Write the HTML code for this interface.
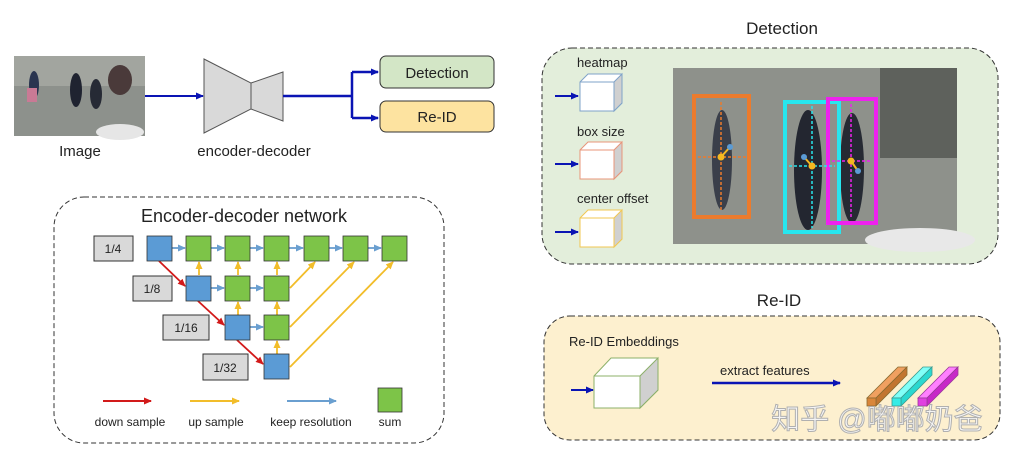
<!DOCTYPE html>
<html><head><meta charset="utf-8"><style>
html,body{margin:0;padding:0;background:#fff;}
svg text{font-family:"Liberation Sans","Noto Sans CJK SC",sans-serif;fill:#222;}
</style></head><body>
<svg width="1011" height="459" viewBox="0 0 1011 459" xmlns="http://www.w3.org/2000/svg">
<defs>
<marker id="ab" markerWidth="8" markerHeight="8" refX="7" refY="4" orient="auto" markerUnits="userSpaceOnUse"><path d="M0,0.5 L8,4 L0,7.5z" fill="#0a14b4"/></marker>
<marker id="ar" markerWidth="8" markerHeight="8" refX="7" refY="4" orient="auto" markerUnits="userSpaceOnUse"><path d="M0,0.5 L8,4 L0,7.5z" fill="#d21a1a"/></marker>
<marker id="ay" markerWidth="8" markerHeight="8" refX="7" refY="4" orient="auto" markerUnits="userSpaceOnUse"><path d="M0,0.5 L8,4 L0,7.5z" fill="#f2bd2a"/></marker>
<marker id="al" markerWidth="8" markerHeight="8" refX="7" refY="4" orient="auto" markerUnits="userSpaceOnUse"><path d="M0,0.5 L8,4 L0,7.5z" fill="#6a9fd0"/></marker>
</defs>

<rect x="14" y="56" width="131" height="80" fill="#8d918c"/>
<rect x="14" y="56" width="131" height="30" fill="#a2a59f"/>
<ellipse cx="34" cy="85" rx="5" ry="14" fill="#2a3550"/>
<rect x="27" y="88" width="10" height="14" fill="#c97a95"/>
<ellipse cx="76" cy="90" rx="6" ry="17" fill="#1f2330"/>
<ellipse cx="96" cy="94" rx="6" ry="15" fill="#262a35"/>
<ellipse cx="120" cy="80" rx="12" ry="15" fill="#4a3a3a"/>
<ellipse cx="120" cy="132" rx="24" ry="8" fill="#e6e6e6"/>
<line x1="145" y1="96" x2="203" y2="96" stroke="#0a14b4" stroke-width="2" marker-end="url(#ab)"/>
<path d="M204,59 L251,83 L251,109 L204,133z" fill="#d9d9d9" stroke="#555" stroke-width="1"/>
<path d="M251,83 L283,72 L283,121 L251,109z" fill="#d9d9d9" stroke="#555" stroke-width="1"/>
<text x="80" y="156" font-size="15" text-anchor="middle">Image</text>
<text x="254" y="156" font-size="15" text-anchor="middle">encoder-decoder</text>
<path d="M283,96 L352,96 M352,72 L352,118" stroke="#0a14b4" stroke-width="2.5" fill="none"/>
<line x1="352" y1="72" x2="378" y2="72" stroke="#0a14b4" stroke-width="2.5" marker-end="url(#ab)"/>
<line x1="352" y1="118" x2="378" y2="118" stroke="#0a14b4" stroke-width="2.5" marker-end="url(#ab)"/>
<rect x="380" y="56" width="114" height="32" rx="6" fill="#d3e6c6" stroke="#333" stroke-width="1"/>
<text x="437" y="78" font-size="15" text-anchor="middle">Detection</text>
<rect x="380" y="101" width="114" height="31" rx="6" fill="#fde3a0" stroke="#333" stroke-width="1"/>
<text x="437" y="122" font-size="15" text-anchor="middle">Re-ID</text>

<rect x="54" y="197" width="390" height="246" rx="30" fill="none" stroke="#333" stroke-width="1" stroke-dasharray="5,3"/>
<text x="244" y="222" font-size="18" text-anchor="middle">Encoder-decoder network</text>
<g font-size="12">
<rect x="94" y="236" width="39" height="25" fill="#d9d9d9" stroke="#333"/><text x="113" y="253" text-anchor="middle">1/4</text>
<rect x="133" y="276" width="39" height="25" fill="#d9d9d9" stroke="#333"/><text x="152" y="293" text-anchor="middle">1/8</text>
<rect x="163" y="315" width="46" height="25" fill="#d9d9d9" stroke="#333"/><text x="186" y="332" text-anchor="middle">1/16</text>
<rect x="203" y="354" width="45" height="26" fill="#d9d9d9" stroke="#333"/><text x="225" y="372" text-anchor="middle">1/32</text>
</g>
<g stroke-width="1.8" fill="none">
<g stroke="#6a9fd0">
<line x1="172" y1="248" x2="185" y2="248" marker-end="url(#al)"/>
<line x1="211" y1="248" x2="224" y2="248" marker-end="url(#al)"/>
<line x1="250" y1="248" x2="263" y2="248" marker-end="url(#al)"/>
<line x1="289" y1="248" x2="303" y2="248" marker-end="url(#al)"/>
<line x1="329" y1="248" x2="342" y2="248" marker-end="url(#al)"/>
<line x1="368" y1="248" x2="381" y2="248" marker-end="url(#al)"/>
<line x1="211" y1="288" x2="224" y2="288" marker-end="url(#al)"/>
<line x1="250" y1="288" x2="263" y2="288" marker-end="url(#al)"/>
<line x1="250" y1="327" x2="263" y2="327" marker-end="url(#al)"/>
</g>
<g stroke="#d21a1a">
<line x1="159" y1="261" x2="185" y2="286" marker-end="url(#ar)"/>
<line x1="198" y1="301" x2="224" y2="325" marker-end="url(#ar)"/>
<line x1="237" y1="340" x2="263" y2="364" marker-end="url(#ar)"/>
</g>
<g stroke="#f2bd2a">
<line x1="199" y1="275" x2="199" y2="262" marker-end="url(#ay)"/>
<line x1="238" y1="275" x2="238" y2="262" marker-end="url(#ay)"/>
<line x1="277" y1="275" x2="277" y2="262" marker-end="url(#ay)"/>
<line x1="238" y1="315" x2="238" y2="302" marker-end="url(#ay)"/>
<line x1="277" y1="315" x2="277" y2="302" marker-end="url(#ay)"/>
<line x1="277" y1="354" x2="277" y2="341" marker-end="url(#ay)"/>
<line x1="290" y1="288" x2="315" y2="262" marker-end="url(#ay)"/>
<line x1="290" y1="327" x2="354" y2="262" marker-end="url(#ay)"/>
<line x1="290" y1="367" x2="393" y2="262" marker-end="url(#ay)"/>
</g>
</g>
<g stroke="#333" stroke-width="0.8">
<rect x="147" y="236" width="25" height="25" fill="#5b9bd5"/>
<rect x="186" y="236" width="25" height="25" fill="#7dc448"/>
<rect x="225" y="236" width="25" height="25" fill="#7dc448"/>
<rect x="264" y="236" width="25" height="25" fill="#7dc448"/>
<rect x="304" y="236" width="25" height="25" fill="#7dc448"/>
<rect x="343" y="236" width="25" height="25" fill="#7dc448"/>
<rect x="382" y="236" width="25" height="25" fill="#7dc448"/>
<rect x="186" y="276" width="25" height="25" fill="#5b9bd5"/>
<rect x="225" y="276" width="25" height="25" fill="#7dc448"/>
<rect x="264" y="276" width="25" height="25" fill="#7dc448"/>
<rect x="225" y="315" width="25" height="25" fill="#5b9bd5"/>
<rect x="264" y="315" width="25" height="25" fill="#7dc448"/>
<rect x="264" y="354" width="25" height="25" fill="#5b9bd5"/>
<rect x="378" y="388" width="24" height="24" fill="#7dc448"/>
</g>
<g stroke-width="2">
<line x1="103" y1="401" x2="151" y2="401" stroke="#d21a1a" marker-end="url(#ar)"/>
<line x1="190" y1="401" x2="239" y2="401" stroke="#f2bd2a" marker-end="url(#ay)"/>
<line x1="287" y1="401" x2="336" y2="401" stroke="#6a9fd0" marker-end="url(#al)"/>
</g>
<g font-size="12" text-anchor="middle">
<text x="130" y="426">down sample</text>
<text x="216" y="426">up sample</text>
<text x="311" y="426">keep resolution</text>
<text x="390" y="426">sum</text>
</g>

<text x="782" y="34" font-size="17" text-anchor="middle">Detection</text>
<rect x="542" y="48" width="456" height="216" rx="30" fill="#e3eedb" stroke="#333" stroke-width="1" stroke-dasharray="5,3"/>
<g font-size="13">
<text x="577" y="67">heatmap</text>
<text x="577" y="136">box size</text>
<text x="577" y="203">center offset</text>
</g>
<g stroke-width="2">
<line x1="555" y1="96" x2="578" y2="96" stroke="#0a14b4" marker-end="url(#ab)"/>
<line x1="555" y1="164" x2="578" y2="164" stroke="#0a14b4" marker-end="url(#ab)"/>
<line x1="555" y1="232" x2="578" y2="232" stroke="#0a14b4" marker-end="url(#ab)"/>
</g>
<g stroke-width="1">
<path d="M580,82 L588,74 L622,74 L622,103 L614,111 L580,111z" fill="#fff" stroke="#7fa3c9"/>
<path d="M614,82 L622,74 L622,103 L614,111z" fill="#d0d0d0" stroke="#7fa3c9"/>
<line x1="580" y1="82" x2="614" y2="82" stroke="#7fa3c9"/>
<path d="M580,150 L588,142 L622,142 L622,171 L614,179 L580,179z" fill="#fff" stroke="#e8957a"/>
<path d="M614,150 L622,142 L622,171 L614,179z" fill="#d0d0d0" stroke="#e8957a"/>
<line x1="580" y1="150" x2="614" y2="150" stroke="#e8957a"/>
<path d="M580,218 L588,210 L622,210 L622,239 L614,247 L580,247z" fill="#fff" stroke="#f2c752"/>
<path d="M614,218 L622,210 L622,239 L614,247z" fill="#d0d0d0" stroke="#f2c752"/>
<line x1="580" y1="218" x2="614" y2="218" stroke="#f2c752"/>
</g>
<rect x="673" y="68" width="284" height="176" fill="#8e918b"/>
<rect x="880" y="68" width="77" height="90" fill="#5e615c"/>
<ellipse cx="920" cy="240" rx="55" ry="12" fill="#e8e8e8"/>
<ellipse cx="722" cy="160" rx="10" ry="50" fill="#3a3f4a"/>
<ellipse cx="808" cy="170" rx="14" ry="60" fill="#232630"/>
<ellipse cx="852" cy="168" rx="12" ry="55" fill="#262a33"/>
<g fill="none">
<rect x="694" y="96" width="55" height="121" stroke="#ec7b2d" stroke-width="4"/>
<rect x="785" y="102" width="54" height="130" stroke="#27e6ee" stroke-width="4"/>
<rect x="828" y="99" width="48" height="124" stroke="#ee22ee" stroke-width="4"/>
<g stroke-dasharray="3,2" stroke-width="1.5">
<line x1="721" y1="102" x2="721" y2="212" stroke="#ec7b2d"/>
<line x1="698" y1="157" x2="746" y2="157" stroke="#ec7b2d"/>
<line x1="812" y1="106" x2="812" y2="228" stroke="#27e6ee"/>
<line x1="789" y1="166" x2="835" y2="166" stroke="#27e6ee"/>
<line x1="851" y1="104" x2="851" y2="218" stroke="#ee22ee"/>
<line x1="832" y1="161" x2="872" y2="161" stroke="#ee22ee"/>
</g>
<line x1="721" y1="157" x2="730" y2="147" stroke="#f5b820" stroke-width="2"/>
<line x1="812" y1="166" x2="804" y2="157" stroke="#f5b820" stroke-width="2"/>
<line x1="851" y1="161" x2="858" y2="171" stroke="#f5b820" stroke-width="2"/>
</g>
<circle cx="721" cy="157" r="3.5" fill="#f5b820"/><circle cx="730" cy="147" r="3" fill="#5b9bd5"/>
<circle cx="812" cy="166" r="3.5" fill="#f5b820"/><circle cx="804" cy="157" r="3" fill="#5b9bd5"/>
<circle cx="851" cy="161" r="3.5" fill="#f5b820"/><circle cx="858" cy="171" r="3" fill="#5b9bd5"/>

<text x="779" y="306" font-size="17" text-anchor="middle">Re-ID</text>
<rect x="544" y="316" width="456" height="124" rx="26" fill="#fdf0cf" stroke="#333" stroke-width="1" stroke-dasharray="5,3"/>
<text x="569" y="346" font-size="13">Re-ID Embeddings</text>
<line x1="571" y1="390" x2="593" y2="390" stroke="#0a14b4" stroke-width="2" marker-end="url(#ab)"/>
<path d="M594,376 L611,358 L658,358 L658,390 L640,408 L594,408z" fill="#fff" stroke="#8cb06a"/>
<path d="M640,376 L658,358 L658,390 L640,408z" fill="#d0d0d0" stroke="#8cb06a"/>
<line x1="594" y1="376" x2="640" y2="376" stroke="#8cb06a"/>
<text x="720" y="375" font-size="13">extract features</text>
<line x1="712" y1="383" x2="840" y2="383" stroke="#0a14b4" stroke-width="2.5" marker-end="url(#ab)"/>
<g stroke-width="0.8">
<path d="M867,398 L898,367 L907,367 L876,398z" fill="#f0a060" stroke="#8a6a30"/>
<path d="M876,398 L907,367 L907,375 L876,406z" fill="#c27530" stroke="#8a6a30"/>
<rect x="867" y="398" width="9" height="8" fill="#d9863a" stroke="#8a6a30"/>
<path d="M892,398 L923,367 L932,367 L901,398z" fill="#80fff8" stroke="#3a9a90"/>
<path d="M901,398 L932,367 L932,375 L901,406z" fill="#2ad8d0" stroke="#3a9a90"/>
<rect x="892" y="398" width="9" height="8" fill="#36ece6" stroke="#3a9a90"/>
<path d="M918,398 L949,367 L958,367 L927,398z" fill="#ff80ff" stroke="#9a3a9a"/>
<path d="M927,398 L958,367 L958,375 L927,406z" fill="#c828c8" stroke="#9a3a9a"/>
<rect x="918" y="398" width="9" height="8" fill="#e040e0" stroke="#9a3a9a"/>
</g>
<text x="877" y="429" font-size="29" text-anchor="middle" style="fill:#f4f4f4;stroke:#b0b0b0;stroke-width:1">知乎 @嘟嘟奶爸</text>
</svg>
</body></html>
